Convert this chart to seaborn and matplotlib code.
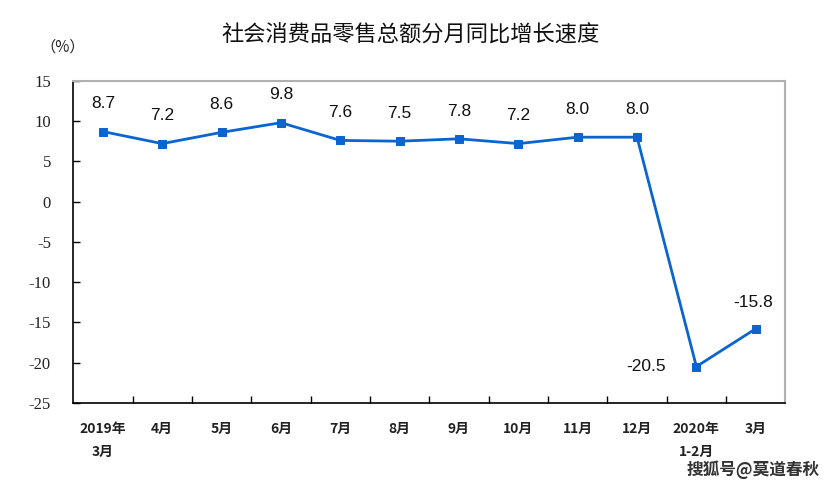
import matplotlib
matplotlib.use("Agg")
import matplotlib.pyplot as plt
import numpy as np
import pandas as pd
import seaborn as sns

months = ["2019年\n3月", "4月", "5月", "6月", "7月", "8月", "9月", "10月", "11月", "12月", "2020年\n1-2月", "3月"]
growth = [8.7, 7.2, 8.6, 9.8, 7.6, 7.5, 7.8, 7.2, 8.0, 8.0, -20.5, -15.8]
y_ticks = [15, 10, 5, 0, -5, -10, -15, -20, -25]

sns.set_theme(style="white")
plt.rcParams["font.family"] = ["Noto Sans CJK SC", "DejaVu Sans"]

df = pd.DataFrame({"month": months, "growth": growth, "pos": np.arange(len(months))})

fig = plt.figure(figsize=(8.32, 4.9), dpi=100)
ax = fig.add_axes([0.088, 0.178, 0.856, 0.657])

line_color = "#0a64d2"
sns.lineplot(data=df, x="pos", y="growth", ax=ax, color=line_color, linewidth=2,
             marker="s", markersize=6, markeredgecolor=line_color)

# value labels
label_kw = dict(textcoords="offset points", ha="center", va="center",
                fontsize=12.5, family="Liberation Sans", color="#111111")
for i, v in enumerate(growth):
    if i == len(growth) - 2:
        offset = (-36, 0)
    elif i == len(growth) - 1:
        offset = (-2, 19)
    else:
        offset = (0, 20)
    ax.annotate(f"{v:.1f}", (i, v), xytext=offset, **label_kw)

ax.set_xlim(-0.5, len(months) - 0.5)
ax.set_ylim(-25, 15)
ax.set_yticks(y_ticks)
ax.set_yticklabels([str(t) for t in y_ticks], family="Liberation Serif", fontsize=12, color="#222222")
ax.set_xticks(np.arange(len(months)))
ax.set_xticklabels(months, fontsize=10, fontweight="bold", color="#222222", linespacing=1.8)
ax.set_xticks(np.arange(len(months) - 1) + 0.5, minor=True)
ax.tick_params(axis="x", which="major", length=0, pad=14)
ax.tick_params(axis="x", which="minor", direction="in", length=5, width=1, color="black", bottom=True)
ax.tick_params(axis="y", direction="in", length=5, width=1, color="black", left=True, pad=16)
ax.set_xlabel("")
ax.set_ylabel("")

for s in ["left", "bottom"]:
    ax.spines[s].set_color("black")
    ax.spines[s].set_linewidth(1.2)
for s in ["top", "right"]:
    ax.spines[s].set_color("#b0b0b0")
    ax.spines[s].set_linewidth(1.5)

fig.text(0.493, 0.928, "社会消费品零售总额分月同比增长速度", ha="center", va="center",
         fontsize=16, color="#111111")
fig.text(0.075, 0.904, "（%）", ha="center", va="center", fontsize=11, color="#222222")
fig.text(0.905, 0.042, "搜狐号@莫道春秋", ha="center", va="center", fontsize=12,
         color="#333333", fontweight="bold")

fig.savefig("out.png", dpi=100)
plt.close(fig)
